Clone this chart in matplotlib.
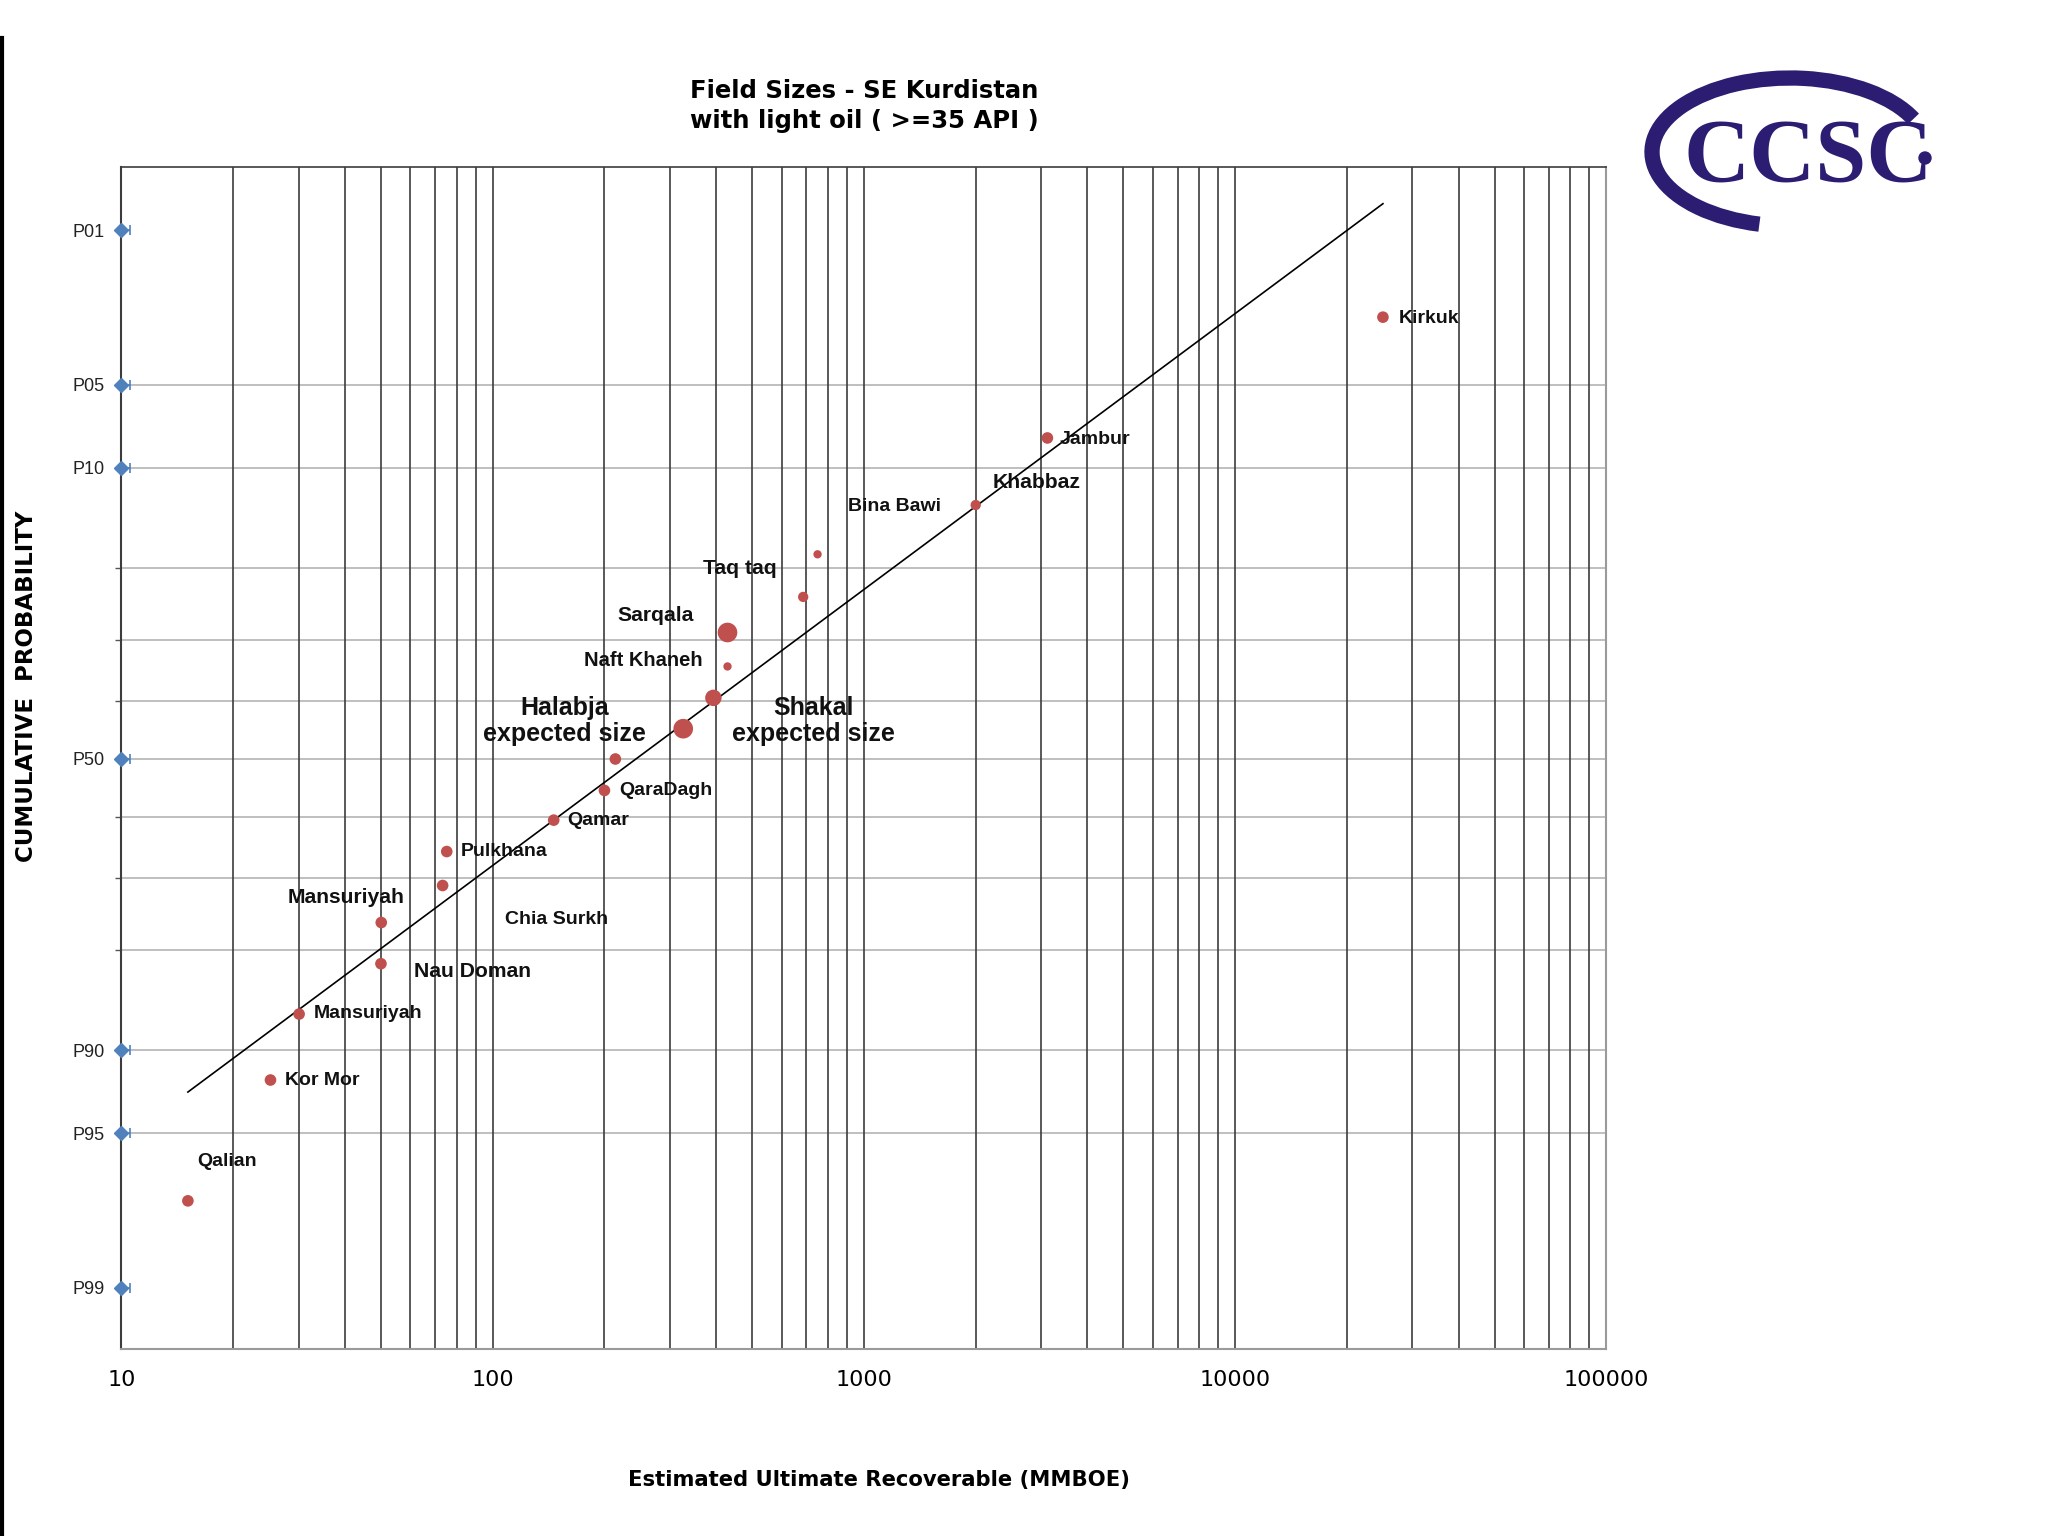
import numpy as np
import matplotlib
matplotlib.use("Agg")
import matplotlib.pyplot as plt
from matplotlib.ticker import LogLocator, NullFormatter, FixedLocator
from matplotlib.patches import Arc, Circle
from matplotlib.lines import Line2D
from statistics import NormalDist

# ---------------- data ----------------
eur_mmboe = [15.1, 25.2, 30.1, 50.0, 50.1, 73.3, 75.2, 146, 200, 214,
             326, 393, 429, 429, 686, 750, 2000, 3120, 25000]
cum_prob = [0.974, 0.921, 0.869, 0.816, 0.764, 0.711, 0.658, 0.606, 0.555, 0.500,
            0.447, 0.394, 0.342, 0.289, 0.238, 0.184, 0.132, 0.079, 0.026]
marker_size = [70, 70, 70, 70, 70, 70, 70, 70, 70, 70,
               200, 140, 36, 200, 55, 36, 55, 70, 70]

trend_eur = [15.1, 25000]
trend_prob = [0.9285, 0.0073]

prob_ticks = [0.01, 0.05, 0.10, 0.50, 0.90, 0.95, 0.99]
prob_tick_labels = ["P01", "P05", "P10", "P50", "P90", "P95", "P99"]
prob_grid = [0.05, 0.10, 0.20, 0.30, 0.40, 0.50, 0.60, 0.70, 0.80, 0.90, 0.95]
eur_ticks = [10, 100, 1000, 10000, 100000]
eur_tick_labels = ["10", "100", "1000", "10000", "100000"]

field_labels = ["Kirkuk", "Jambur", "Khabbaz", "Bina Bawi", "Taq taq", "Sarqala",
                "Naft Khaneh", "Halabja\nexpected size", "Shakal\nexpected size",
                "QaraDagh", "Qamar", "Pulkhana", "Chia Surkh", "Mansuriyah",
                "Nau Doman", "Mansuriyah", "Kor Mor", "Qalian"]

# layout of labels (axes fractions), font sizes, alignment
label_pos = [(0.860, 0.872), (0.632, 0.770), (0.5866, 0.7337), (0.489, 0.7127),
             (0.3914, 0.6608), (0.3342, 0.621), (0.3113, 0.5823), (0.2982, 0.5315),
             (0.4661, 0.5315), (0.3351, 0.4729), (0.2999, 0.4475), (0.2287, 0.421),
             (0.2586, 0.3635), (0.1117, 0.3823), (0.197, 0.3193), (0.1293, 0.284),
             (0.1099, 0.2276), (0.051, 0.1591)]
label_fs = [14, 14, 15.2, 14, 15.2, 15.2, 14.5, 18, 18, 14, 14, 14, 14, 15.2,
            15.2, 14, 14, 14]
label_ha = ["left", "left", "left", "left", "left", "left", "left", "center",
            "center", "left", "left", "left", "left", "left", "left", "left",
            "left", "left"]

# ---------------- probability scale ----------------
_nd = NormalDist()
_ppf = np.vectorize(_nd.inv_cdf, otypes=[float])
_cdf = np.vectorize(_nd.cdf, otypes=[float])


def fwd(p):
    p = np.clip(np.asarray(p, dtype=float), 1e-9, 1 - 1e-9)
    return _ppf(p)


def inv(z):
    return _cdf(np.asarray(z, dtype=float))


fig = plt.figure(figsize=(20.48, 15.36), dpi=100, facecolor="white")
ax = fig.add_axes([0.0593, 0.1216, 0.7251, 0.7695])
ax.set_xscale("log")
ax.set_yscale("function", functions=(fwd, inv))
ax.set_xlim(10, 100000)
ax.set_ylim(0.99528, 0.00463)

# grid
ax.xaxis.set_major_locator(FixedLocator(eur_ticks))
ax.set_xticklabels(eur_tick_labels, fontsize=16, family="DejaVu Sans")
ax.xaxis.set_minor_locator(LogLocator(base=10, subs=np.arange(2, 10)))
ax.xaxis.set_minor_formatter(NullFormatter())
ax.grid(which="both", axis="x", color="#3c3c3c", lw=1.2, zorder=0)
for p in prob_grid:
    ax.axhline(p, color="#b4b4b4", lw=1.2, zorder=0)
ax.tick_params(axis="x", which="both", length=0, pad=15)

ax.yaxis.set_major_locator(FixedLocator(prob_ticks))
ax.set_yticklabels(prob_tick_labels, fontsize=13, family="Liberation Sans",
                   color="#222222")
ax.yaxis.set_minor_locator(FixedLocator([0.2, 0.3, 0.4, 0.6, 0.7, 0.8]))
ax.yaxis.set_minor_formatter(NullFormatter())
ax.tick_params(axis="y", which="major", length=0, pad=12)
ax.tick_params(axis="y", which="minor", length=4, color="#555555", width=1)

for s in ["bottom", "right"]:
    ax.spines[s].set_color("#9a9a9a")
    ax.spines[s].set_linewidth(1.5)
ax.spines["top"].set_color("#3c3c3c")
ax.spines["top"].set_linewidth(1.2)
ax.spines["left"].set_color("#3c3c3c")
ax.spines["left"].set_linewidth(1.5)

# blue diamond "tick" markers
ax.errorbar([10] * len(prob_ticks), prob_ticks,
            xerr=[[0] * len(prob_ticks), [0.55] * len(prob_ticks)],
            fmt="D", color="#4F81BD", ms=7.5, capsize=3.5, elinewidth=1.2,
            capthick=1.2, clip_on=False, zorder=5)

# trend line
ax.plot(trend_eur, trend_prob, color="black", lw=1.2, zorder=3)

# data points
ax.scatter(eur_mmboe, cum_prob, s=marker_size, color="#C0504D", zorder=4,
           edgecolors="none")

# labels
for txt, (fx, fy), fs, ha in zip(field_labels, label_pos, label_fs, label_ha):
    ax.text(fx, fy, txt, transform=ax.transAxes, fontsize=fs, ha=ha,
            va="center", fontweight="bold", family="Liberation Sans",
            color="#111111", linespacing=1.15, zorder=6)

# axis labels and title
fig.text(0.0127, 0.553, "CUMULATIVE  PROBABILITY", rotation=90, ha="center",
         va="center", fontsize=16.5, fontweight="bold", family="DejaVu Sans")
fig.text(0.429, 0.0365, "Estimated Ultimate Recoverable (MMBOE)", ha="center",
         va="center", fontsize=15.2, fontweight="bold", family="DejaVu Sans")
fig.text(0.422, 0.931, "Field Sizes - SE Kurdistan\nwith light oil ( >=35 API )",
         ha="center", va="center", fontsize=17.5, fontweight="bold",
         family="DejaVu Sans", linespacing=1.35)

# logo
lax = fig.add_axes([1600 / 2048, 1 - 260 / 1536, 448 / 2048, 220 / 1536])
lax.set_xlim(1600, 2048)
lax.set_ylim(260, 40)
lax.axis("off")
lax.add_patch(Arc((1790, 152), 276, 148, theta1=113, theta2=345,
                  color="#2c1d72", lw=11))
lax.text(1808, 160, "CCSC", ha="center", va="center", fontsize=66,
         family="Liberation Serif", color="#2c1d72", fontweight="bold")
lax.add_patch(Circle((1925, 158), 6, color="#2c1d72"))

# left page border
fig.add_artist(Line2D([0.0008, 0.0008], [0.0, 0.975], color="black", lw=3))

fig.savefig("out.png", dpi=100, facecolor="white")
